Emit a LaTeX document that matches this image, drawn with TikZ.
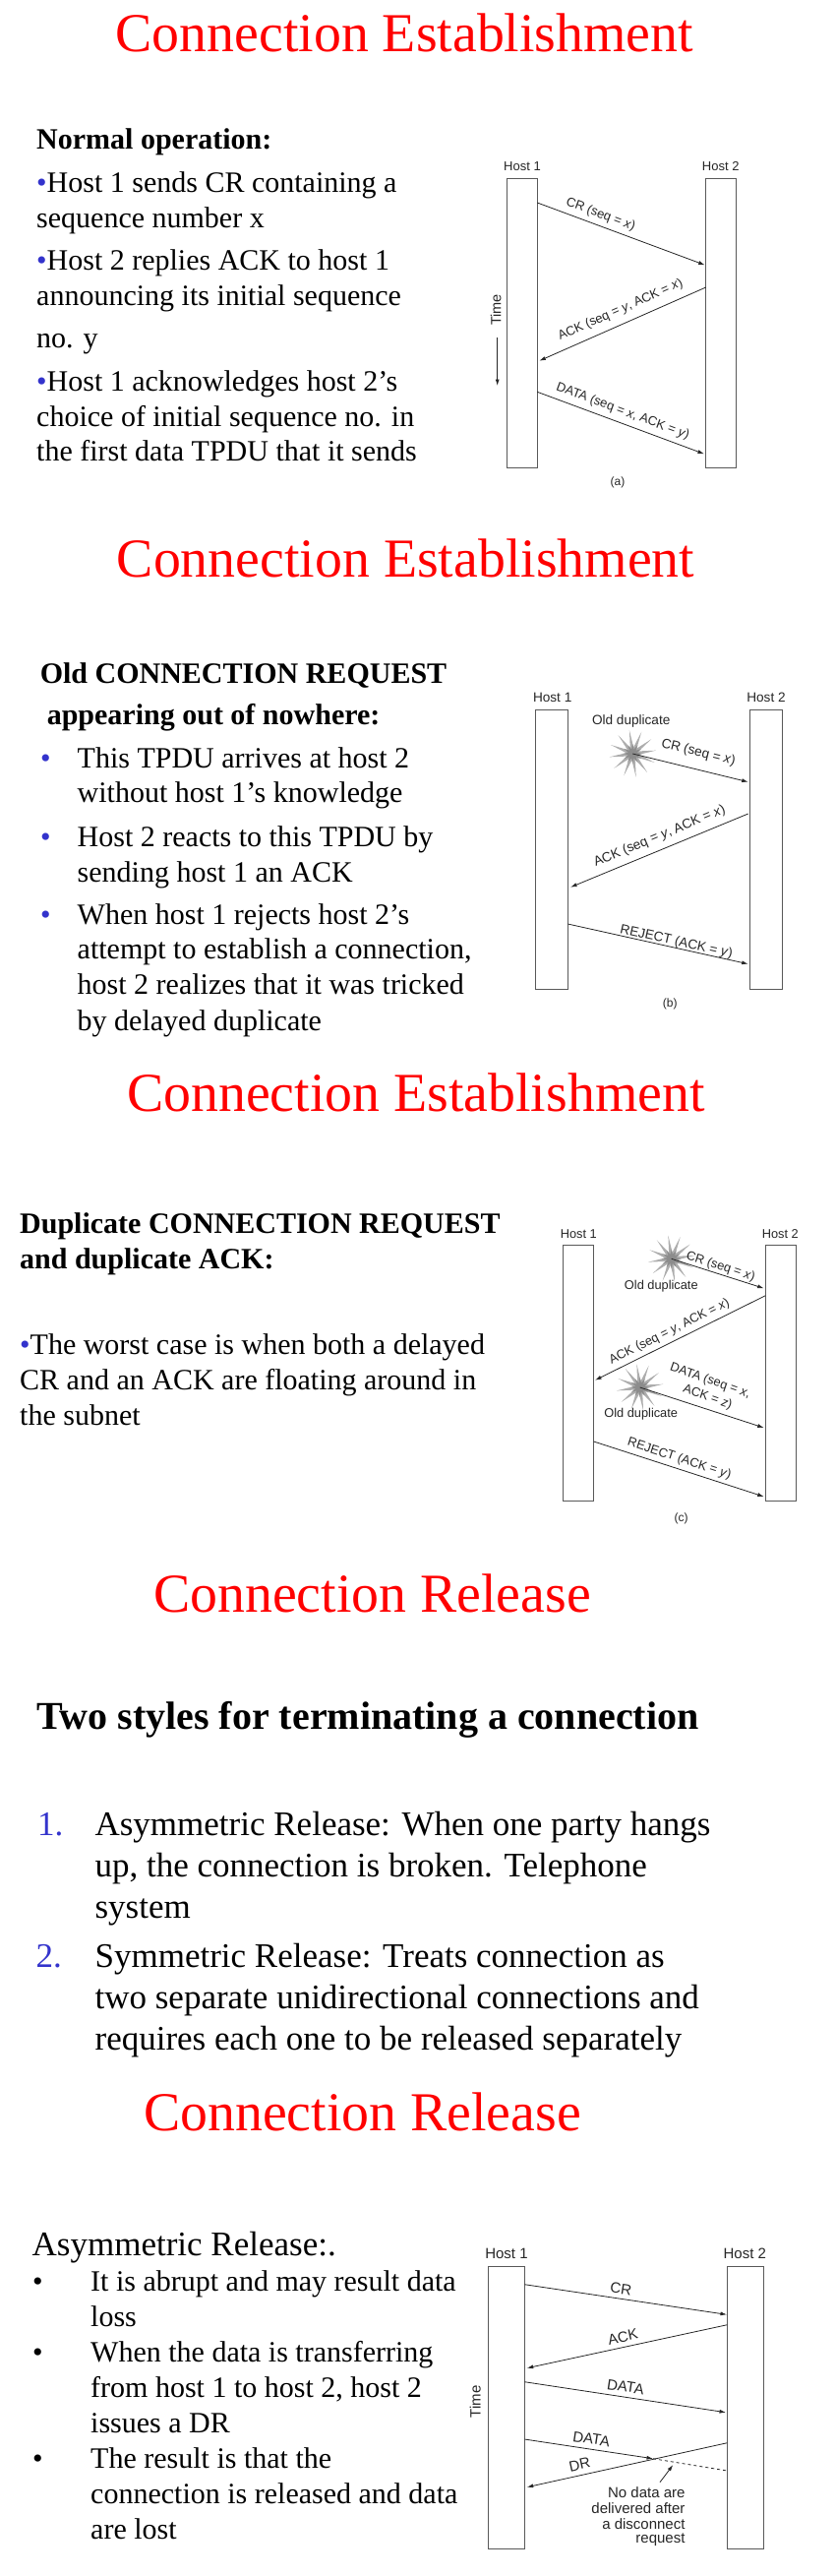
\documentclass[tikz,border=0pt]{standalone}
\usepackage{fontspec}
\usepackage{xcolor}
\setmainfont{Liberation Serif}
\newfontfamily\figfont{Liberation Sans}
\usetikzlibrary{arrows.meta,shapes.geometric}
\definecolor{bulletblue}{RGB}{51,51,204}
\newcommand{\blt}{\textcolor{bulletblue}{•}}
\tikzset{
  slidetitle/.style = {anchor=base west, text=red, inner sep=0pt,
                       font=\fontsize{55.8}{60}\selectfont},
  bodyline/.style   = {anchor=base west, inner sep=0pt,
                       font=\fontsize{30}{36}\selectfont},
  boldline/.style   = {anchor=base west, inner sep=0pt,
                       font=\fontsize{30}{36}\selectfont\bfseries},
  bigline/.style    = {anchor=base west, inner sep=0pt,
                       font=\fontsize{35}{42}\selectfont},
  hostbox/.style    = {rectangle, draw=black!65, line width=1pt, inner sep=0pt},
  figlab/.style     = {inner sep=0pt, text=black!85,
                       font=\figfont\fontsize{#1}{#1}\selectfont},
  msg/.style        = {-{Latex[length=6.5pt,width=4pt]}, line width=0.8pt, black!85},
  burst/.style      = {star, star points=12, star point ratio=3.6, inner sep=0pt,
                       draw=none, fill=black!32, minimum size=48pt},
  burstcore/.style  = {star, star points=12, star point ratio=2.2, inner sep=0pt,
                       draw=none, fill=black!45, minimum size=20pt},
}
\begin{document}
\begin{tikzpicture}[x=1pt,y=-1pt]
  \useasboundingbox (0,0) rectangle (849,2618);

  % first slide
  \node[slidetitle] (titlea) at (117.5,52) {Connection Establishment};
  \node[boldline] (heada) at (37,151.7) {Normal operation:};
  \node[bodyline] (la1) at (37,195) {\blt Host 1 sends CR containing a};
  \node[bodyline] (la2) at (37,231) {sequence number x};
  \node[bodyline] (la3) at (37,274) {\blt Host 2 replies ACK to host 1};
  \node[bodyline] (la4) at (37,310) {announcing its initial sequence};
  \node[bodyline] (la5) at (37,353) {no. y};
  \node[bodyline] (la6) at (37,397) {\blt Host 1 acknowledges host 2’s};
  \node[bodyline] (la7) at (37,433) {choice of initial sequence no. in};
  \node[bodyline] (la8) at (37,468) {the first data TPDU that it sends};

  \node[hostbox, minimum width=30.6, minimum height=293.7] (h1a) at (531,328.2) {};
  \node[hostbox, minimum width=30.6, minimum height=293.7] (h2a) at (733,328.2) {};
  \node[figlab=13] (hl1a) at (531,169) {Host 1};
  \node[figlab=13] (hl2a) at (732.7,169) {Host 2};
  \coordinate (crsa) at (546.3,206);
  \coordinate (crea) at (716.7,269.3);
  \coordinate (acksa) at (717.7,292);
  \coordinate (ackea) at (548.3,366.7);
  \coordinate (datsa) at (546.3,398.3);
  \coordinate (datea) at (716,461.3);
  \draw[msg] (crsa) -- (crea);
  \draw[msg] (acksa) -- (ackea);
  \draw[msg] (datsa) -- (datea);
  \node[figlab=13, rotate=-20.4] (crla) at (610.7,218.3) {CR (seq = \textit{x})};
  \node[figlab=13, rotate=23.8] (ackla) at (631,315) {ACK (seq = \textit{y}, ACK = \textit{x})};
  \node[figlab=13, rotate=-20.3] (datla) at (633.3,418.3) {DATA (seq = \textit{x}, ACK = \textit{y})};
  \node[figlab=14.5, rotate=90] (timea) at (504.3,315) {Time};
  \coordinate (timesa) at (505.7,343);
  \coordinate (timeea) at (505.7,392);
  \draw[msg] (timesa) -- (timeea);
  \node[figlab=12] (capa) at (628,490.7) {(a)};

  % second slide
  \node[slidetitle] (titleb) at (118.6,586.5) {Connection Establishment};
  \node[boldline] (headb) at (40.6,694) {Old CONNECTION REQUEST};
  \node[boldline] (headbb) at (47.6,736) {appearing out of nowhere:};
  \node[bodyline] (bb1) at (41,780) {\blt};
  \node[bodyline] (bb2) at (41,860) {\blt};
  \node[bodyline] (bb3) at (41,939) {\blt};
  \node[bodyline] (lb1) at (78.5,780) {This TPDU arrives at host 2};
  \node[bodyline] (lb2) at (78.5,815.5) {without host 1’s knowledge};
  \node[bodyline] (lb3) at (78.5,860) {Host 2 reacts to this TPDU by};
  \node[bodyline] (lb4) at (78.5,896) {sending host 1 an ACK};
  \node[bodyline] (lb5) at (78.5,939) {When host 1 rejects host 2’s};
  \node[bodyline] (lb6) at (78.5,974.5) {attempt to establish a connection,};
  \node[bodyline] (lb7) at (78.5,1010.7) {host 2 realizes that it was tricked};
  \node[bodyline] (lb8) at (78.5,1047) {by delayed duplicate};

  \node[hostbox, minimum width=32.7, minimum height=284] (h1b) at (561,863.3) {};
  \node[hostbox, minimum width=33, minimum height=284] (h2b) at (779.2,863.3) {};
  \node[figlab=13.6] (hl1b) at (561.7,709.3) {Host 1};
  \node[figlab=13.6] (hl2b) at (779,709.3) {Host 2};
  \node[figlab=13.6] (oldb) at (641.7,732.7) {Old duplicate};
  \node[burst, rotate=8] (starb) at (643.3,766) {};
  \node[burstcore] (corb) at (643.3,766) {};
  \coordinate (creb) at (760.7,794.7);
  \coordinate (acksb) at (760.7,827);
  \coordinate (ackeb) at (580,901.7);
  \coordinate (rejsb) at (577.3,939);
  \coordinate (rejeb) at (760.7,979.7);
  \draw[msg] (starb.center) -- (creb);
  \draw[msg] (acksb) -- (ackeb);
  \draw[msg] (rejsb) -- (rejeb);
  \node[figlab=13.6, rotate=-14] (crlb) at (710,765) {CR (seq = \textit{x})};
  \node[figlab=13.6, rotate=22.4] (acklb) at (670.7,850) {ACK (seq = \textit{y}, ACK = \textit{x})};
  \node[figlab=13.6, rotate=-12.5] (rejlb) at (687.7,957.3) {REJECT (ACK = \textit{y})};
  \node[figlab=12] (capb) at (681.3,1020) {(b)};

  % third slide
  \node[slidetitle] (titlec) at (129,1129) {Connection Establishment};
  \node[boldline] (headc) at (20,1253) {Duplicate CONNECTION REQUEST};
  \node[boldline] (headcb) at (20,1289) {and duplicate ACK:};
  \node[bodyline] (lc1) at (20,1376) {\blt The worst case is when both a delayed};
  \node[bodyline] (lc2) at (20,1412) {CR and an ACK are floating around in};
  \node[bodyline] (lc3) at (20,1448) {the subnet};

  \node[hostbox, minimum width=31.4, minimum height=259.3] (h1c) at (588,1395.4) {};
  \node[hostbox, minimum width=31.4, minimum height=259.3] (h2c) at (794,1395.4) {};
  \node[figlab=12.8] (hl1c) at (588.3,1254.3) {Host 1};
  \node[figlab=12.8] (hl2c) at (793.3,1254.3) {Host 2};
  \node[burst, rotate=8] (starc) at (682.7,1279.3) {};
  \node[burstcore] (corc) at (682.7,1279.3) {};
  \node[burst, rotate=8] (stard) at (650.7,1410) {};
  \node[burstcore] (cord) at (650.7,1410) {};
  \node[figlab=12.8] (oldc) at (672.3,1307) {Old duplicate};
  \node[figlab=12.8] (oldd) at (651.7,1436.7) {Old duplicate};
  \coordinate (crec) at (776.7,1309.3);
  \coordinate (acksc) at (778.3,1316.7);
  \coordinate (ackec) at (605,1402.7);
  \coordinate (datec) at (776.7,1451);
  \coordinate (rejsc) at (603.7,1465);
  \coordinate (rejec) at (776.7,1521);
  \draw[msg] (starc.center) -- (crec);
  \draw[msg] (acksc) -- (ackec);
  \draw[msg] (stard.center) -- (datec);
  \draw[msg] (rejsc) -- (rejec);
  \node[figlab=12.8, rotate=-18] (crlc) at (732.7,1287.3) {CR (seq = \textit{x})};
  \node[figlab=12.8, rotate=26.4] (acklc) at (680.7,1353.3) {ACK (seq = \textit{y}, ACK = \textit{x})};
  \node[figlab=12.8, rotate=-19] (datlc) at (722,1403.3) {DATA (seq = \textit{x},};
  \node[figlab=12.8, rotate=-19] (datlcb) at (719.3,1420) {ACK = \textit{z})};
  \node[figlab=12.8, rotate=-18] (rejlc) at (690.7,1482.7) {REJECT (ACK = \textit{y})};
  \node[figlab=12] (capc) at (692.7,1543) {(c)};

  % fourth slide
  \node[slidetitle] (titled) at (156,1638) {Connection Release};
  \node[boldline, font=\fontsize{40}{48}\selectfont\bfseries] (headd) at (36.8,1757) {Two styles for terminating a connection};
  \node[bigline, text=bulletblue] (numa) at (38,1865) {1.};
  \node[bigline, text=bulletblue] (numb) at (36.3,1999) {2.};
  \node[bigline] (ld1) at (96.4,1865) {Asymmetric Release: When one party hangs};
  \node[bigline] (ld2) at (96.4,1907) {up, the connection is broken. Telephone};
  \node[bigline] (ld3) at (96.4,1949) {system};
  \node[bigline] (ld4) at (96.4,1999) {Symmetric Release: Treats connection as};
  \node[bigline] (ld5) at (96.4,2041) {two separate unidirectional connections and};
  \node[bigline] (ld6) at (96.4,2083) {requires each one to be released separately};

  % fifth slide
  \node[slidetitle] (titlee) at (146,2165) {Connection Release};
  \node[bigline] (heade) at (32.5,2292) {Asymmetric Release:.};
  \node[bodyline] (be1) at (33,2328) {•};
  \node[bodyline] (be2) at (33,2400) {•};
  \node[bodyline] (be3) at (33,2508) {•};
  \node[bodyline] (le1) at (92,2328) {It is abrupt and may result data};
  \node[bodyline] (le2) at (92,2364) {loss};
  \node[bodyline] (le3) at (92,2400) {When the data is transferring};
  \node[bodyline] (le4) at (92,2436) {from host 1 to host 2, host 2};
  \node[bodyline] (le5) at (92,2472) {issues a DR};
  \node[bodyline] (le6) at (92,2508) {The result is that the};
  \node[bodyline] (le7) at (92,2544) {connection is released and data};
  \node[bodyline] (le8) at (92,2580) {are lost};

  \node[hostbox, minimum width=36.8, minimum height=287] (h1e) at (515,2446.5) {};
  \node[hostbox, minimum width=36.8, minimum height=287] (h2e) at (757.8,2446.5) {};
  \node[figlab=15] (hl1e) at (515,2290.3) {Host 1};
  \node[figlab=15] (hl2e) at (757.3,2290.3) {Host 2};
  \coordinate (crse) at (533.4,2321.7);
  \coordinate (cree) at (739,2352.3);
  \coordinate (ackse) at (739.4,2362.7);
  \coordinate (ackee) at (535.7,2406.7);
  \coordinate (datse) at (533.4,2420.7);
  \coordinate (datee) at (738,2451.7);
  \coordinate (lostse) at (533.4,2479);
  \coordinate (lostee) at (664,2498.7);
  \coordinate (dashe) at (739.4,2511);
  \coordinate (drse) at (739.4,2482.7);
  \coordinate (dree) at (535.7,2527.7);
  \coordinate (notese) at (671,2522.7);
  \coordinate (noteee) at (684.3,2505);
  \draw[msg] (crse) -- (cree);
  \draw[msg] (ackse) -- (ackee);
  \draw[msg] (datse) -- (datee);
  \draw[line width=0.8pt, black!85, dashed] (lostee) -- (dashe);
  \draw[msg] (lostse) -- (lostee);
  \draw[msg] (drse) -- (dree);
  \draw[msg] (notese) -- (noteee);
  \node[figlab=15, rotate=-8.5] (crle) at (631.3,2326.3) {CR};
  \node[figlab=15, rotate=12.2] (ackle) at (633.3,2375) {ACK};
  \node[figlab=15, rotate=-8.5] (datle) at (636,2425.7) {DATA};
  \node[figlab=15, rotate=-8.5] (lostle) at (601.3,2478.7) {DATA};
  \node[figlab=15, rotate=12.2] (drle) at (589.3,2504.7) {DR};
  \node[figlab=15, anchor=east] (notea) at (696.7,2533.3) {No data are};
  \node[figlab=15, anchor=east] (noteb) at (696.7,2549) {delivered after};
  \node[figlab=15, anchor=east] (notec) at (696.7,2565) {a disconnect};
  \node[figlab=15, anchor=east] (noted) at (696.7,2580.7) {request};
  \node[figlab=15, rotate=90] (timee) at (483.3,2441) {Time};
\end{tikzpicture}
\end{document}
